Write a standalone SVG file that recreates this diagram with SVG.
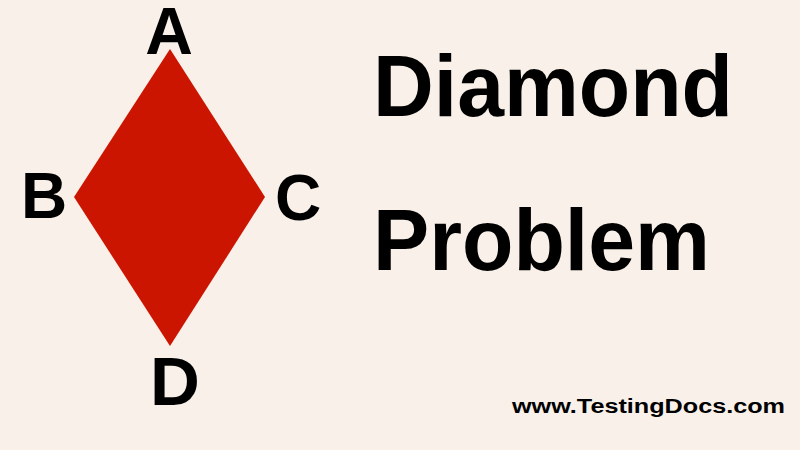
<svg xmlns="http://www.w3.org/2000/svg" width="800" height="450" viewBox="0 0 800 450">
  <style>
    .lbl { font-family: "Liberation Sans", Arial, sans-serif; font-weight: bold; fill: #000; }
  </style>
  <rect width="800" height="450" fill="#f9f1e9"/>
  <g id="diamond">
    <polygon points="170,49 265,197 170,346 74,197" fill="#cc1500"/>
  </g>
  <g id="label-A"><text class="lbl" x="169" y="54" font-size="66" text-anchor="middle">A</text></g>
  <g id="label-B"><text class="lbl" x="44" y="218" font-size="64" text-anchor="middle">B</text></g>
  <g id="label-C"><text class="lbl" x="298" y="220" font-size="64" text-anchor="middle">C</text></g>
  <g id="label-D"><text class="lbl" x="175" y="405" font-size="69" text-anchor="middle">D</text></g>
  <g id="title">
    <text class="lbl" x="373" y="116" font-size="88" textLength="360" lengthAdjust="spacingAndGlyphs">Diamond</text>
    <text class="lbl" x="373" y="270" font-size="88" textLength="337" lengthAdjust="spacingAndGlyphs">Problem</text>
  </g>
  <g id="url">
    <text class="lbl" x="512" y="413" font-size="20" textLength="273" lengthAdjust="spacingAndGlyphs">www.TestingDocs.com</text>
  </g>
</svg>
